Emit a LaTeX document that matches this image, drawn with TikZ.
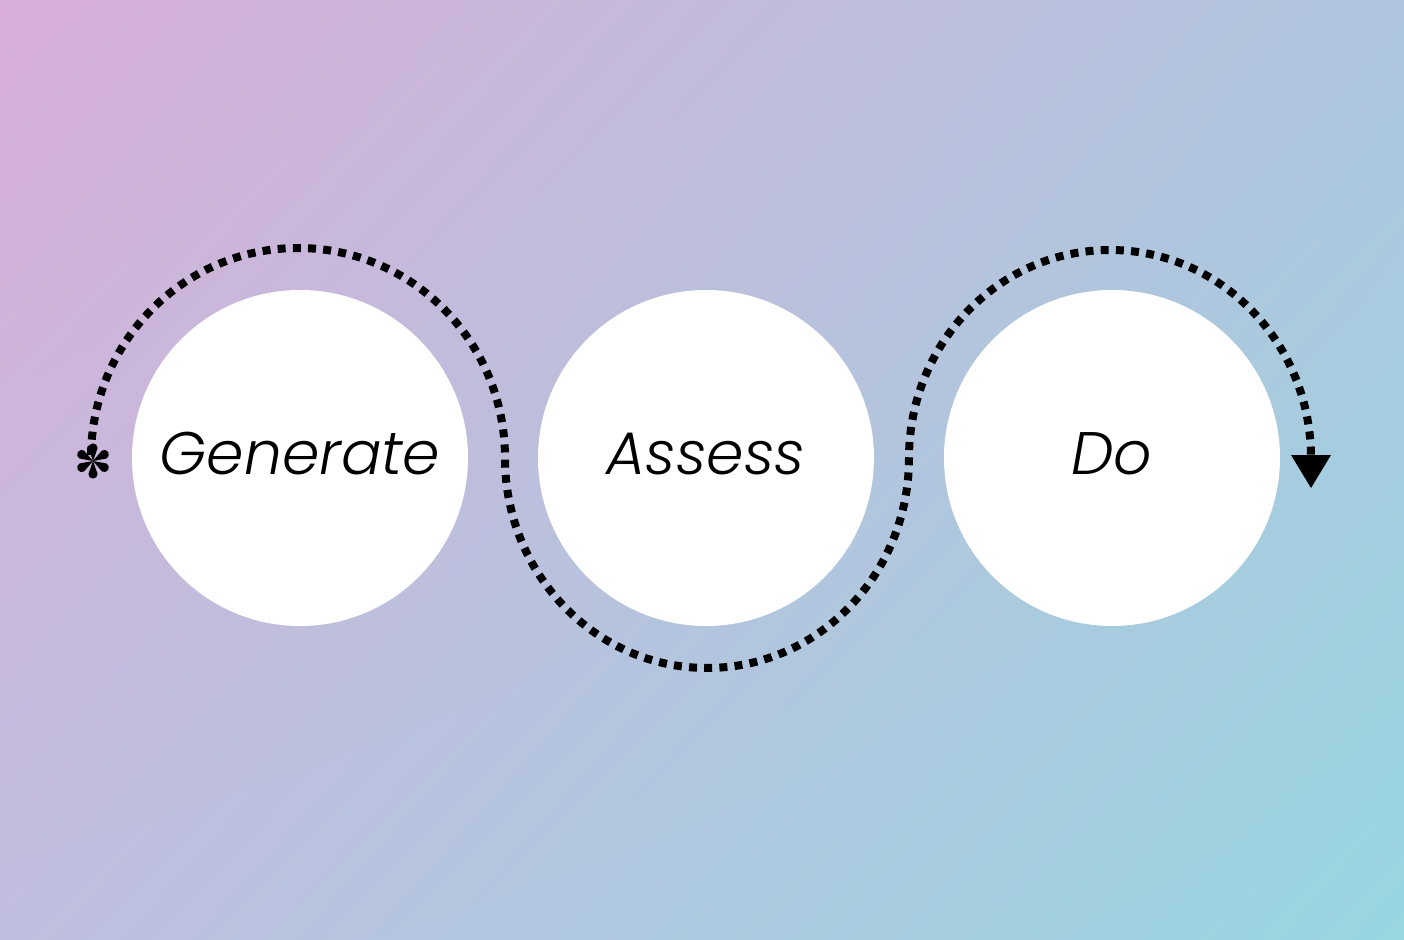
\documentclass[tikz,border=0pt]{standalone}
\usepackage{fontspec}
\newfontfamily\lab{Poppins Light Italic}
\usetikzlibrary{arrows.meta,shadings,calc}
\definecolor{cTL}{RGB}{216,174,216}
\definecolor{cTR}{RGB}{175,198,222}
\definecolor{cBL}{RGB}{192,190,222}
\definecolor{cBR}{RGB}{152,214,224}
\tikzset{
  circ/.style={circle, fill=white, minimum size=168pt, inner sep=0pt},
  lbl/.style={font=\lab\fontsize{30}{34}\selectfont, text=black, inner sep=0pt},
  dotline/.style={line width=4pt, dash pattern=on 4pt off 3.6pt, black},
  petal/.style={fill=black}
}
\begin{document}
\begin{tikzpicture}[x=0.5pt,y=0.5pt]
\shade[upper left=cTL, upper right=cTR, lower left=cBL, lower right=cBR]
  (0,0) rectangle (1404,939);
\useasboundingbox (0,0) rectangle (1404,939);
\node[circ] (G) at (300,481) {};
\node[circ] (A) at (706,481) {};
\node[circ] (D) at (1112,481) {};
\node[lbl] (Gt) at ($(G)+(0,4)$) {Generate};
\node[lbl] (At) at ($(A)+(0,4)$) {Assess};
\node[lbl] (Dt) at ($(D)+(0,4)$) {Do};
\coordinate (start) at (92,493);
\coordinate (finish) at (1311,451);
\coordinate (ast) at (93,478);
\draw[dotline, -{Triangle[length=16.5pt, width=20pt, line width=0pt]}]
  (start) -- (91,481)
  arc[start angle=180, end angle=0, x radius=207, y radius=210]
  arc[start angle=180, end angle=360, x radius=202, y radius=210]
  arc[start angle=180, end angle=0, x radius=201, y radius=208]
  -- (finish);
\foreach \a in {90,30,-30,-90,-150,150}
  \fill[petal, rotate around={\a:(ast)}] (ast) -- ++(13,4.6)
    arc[start angle=90, end angle=-90, radius=4.6] -- cycle;
\end{tikzpicture}
\end{document}
